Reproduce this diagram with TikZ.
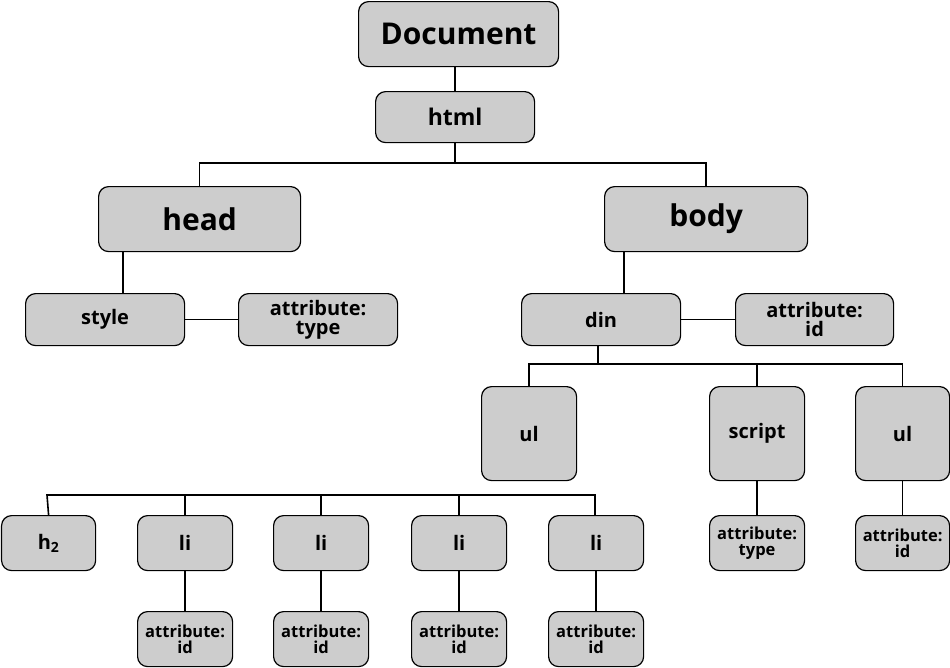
\documentclass[tikz,border=0pt]{standalone}
\usepackage{fontspec}
\setmainfont{Open Sans}
\begin{document}
\begin{tikzpicture}[x=1pt,y=-1pt,
 box/.style={draw=black,line width=1.2pt,fill={rgb,255:red,205;green,205;blue,205},rounded corners=10pt,inner sep=0pt,anchor=north west},
 ln/.style={line width=1.6pt},
 t30/.style={font=\bfseries\fontsize{30}{30}\selectfont},
 t24/.style={font=\bfseries\fontsize{23}{23}\selectfont},
 t15/.style={font=\bfseries\fontsize{20}{19}\selectfont,align=center},
 t13/.style={font=\bfseries\fontsize{16.5}{16}\selectfont,align=center}]
\useasboundingbox (0,0) rectangle (950,667);
\newcommand{\bx}[5]{\node[box,minimum width=#4-#2,minimum height=#5-#3] (#1) at (#2,#3) {};}
\bx{doc}{358}{1}{558}{66}\node[t30] at (doc.center) {Document};
\bx{html}{375}{91}{534}{142}\node[t24] at (html.center) {html};
\bx{head}{98}{186}{300}{251}\node[t30] at (head.center) {head};
\bx{body}{604}{186}{807}{251}\node[t30] at (body.center) {body};
\bx{style}{25}{293}{184}{345}\node[t15] at (style.center) {style};
\bx{atype}{238}{293}{397}{345}\node[t15] at (atype.center) {attribute:\\type};
\bx{din}{521}{293}{680}{345}\node[t15] at (din.center) {din};
\bx{aid}{735}{293}{893}{345}\node[t15] at (aid.center) {attribute:\\id};
\bx{ulA}{481}{386}{576}{480}\node[t15] at (ulA.center) {ul};
\bx{scr}{709}{386}{804}{480}\node[t15] at (scr.center) {script};
\bx{ulB}{855}{386}{949}{480}\node[t15] at (ulB.center) {ul};
\bx{scra}{709}{515}{804}{570}\node[t13] at (scra.center) {attribute:\\type};
\bx{ulBa}{855}{515}{949}{570}\node[t13] at (ulBa.center) {attribute:\\id};
\bx{h}{1}{515}{95}{570}\node[t15] at (h.center) {h\textsubscript{2}};
\foreach \n/\x in {1/137,2/273,3/411,4/548}{
 \bx{li\n}{\x}{515}{\x+95}{570}\node[t15] at (li\n.center) {li};
 \bx{lia\n}{\x}{611}{\x+95}{666}\node[t13] at (lia\n.center) {attribute:\\id};
 \draw[ln] (li\n.south) -- (lia\n.north);
}
\draw[ln] (doc.south -| 455,0) -- (html.north -| 455,0);
\draw[ln] (html.south -| 455,0) -- (455,163) coordinate (j1);
\draw[ln] (head.north) |- (j1) -| (body.north);
\draw[ln] (head.south -| 123,0) -- (style.north -| 123,0);
\draw[ln] (style.east) -- (atype.west);
\draw[ln] (body.south -| 624,0) -- (din.north -| 624,0);
\draw[ln] (din.east) -- (aid.west);
\draw[ln] (din.south -| 598,0) -- (598,364) coordinate (j2);
\draw[ln] (ulA.north) |- (j2) -| (ulB.north);
\draw[ln] (scr.north) -- (scr.north |- j2);
\draw[ln] (scr.south) -- (scra.north);
\draw[ln] (ulB.south) -- (ulBa.north);
\draw[ln] (h.north) -- (47,495) -- (595,495) -- (li4.north -| 595,0);
\foreach \n in {1,2,3}{\draw[ln] (li\n.north) -- (li\n.north |- 0,495);}
\end{tikzpicture}
\end{document}
